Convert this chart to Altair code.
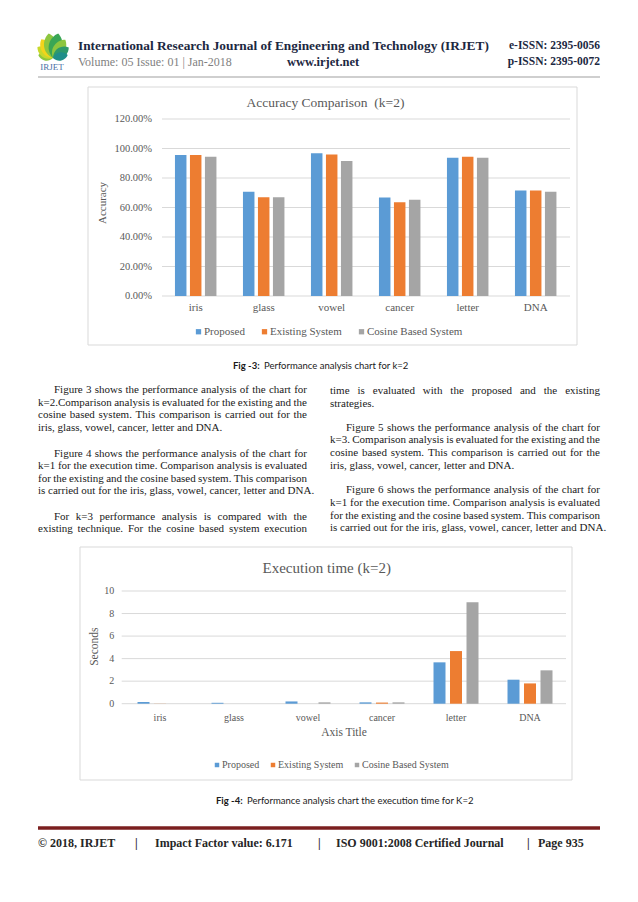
import altair as alt
import pandas as pd

# ---------------- data ----------------
categories = ["iris", "glass", "vowel", "cancer", "letter", "DNA"]
series = ["Proposed", "Existing System", "Cosine Based System"]
colors = ["#5b9bd5", "#ed7d31", "#a5a5a5"]

acc_proposed = [0.956, 0.707, 0.967, 0.667, 0.938, 0.716]
acc_existing = [0.956, 0.669, 0.960, 0.635, 0.944, 0.716]
acc_cosine = [0.944, 0.669, 0.915, 0.653, 0.938, 0.707]
acc_ticks = [0.0, 0.2, 0.4, 0.6, 0.8, 1.0, 1.2]
acc_tick_labels = ["0.00%", "20.00%", "40.00%", "60.00%", "80.00%", "100.00%", "120.00%"]

time_proposed = [0.15, 0.08, 0.20, 0.12, 3.67, 2.13]
time_existing = [0.01, 0.0, 0.0, 0.10, 4.67, 1.80]
time_cosine = [0.0, 0.0, 0.12, 0.12, 9.00, 2.96]
time_ticks = [0, 2, 4, 6, 8, 10]
time_tick_labels = ["0", "2", "4", "6", "8", "10"]

header_title = "International Research Journal of Engineering and Technology (IRJET)"
header_eissn = "e-ISSN: 2395-0056"
header_volume = "Volume: 05 Issue: 01 | Jan-2018"
header_web = "www.irjet.net"
header_pissn = "p-ISSN: 2395-0072"

chart1_title = "Accuracy Comparison\u00a0 (k=2)"
chart1_ytitle = "Accuracy"
chart2_title = "Execution time (k=2)"
chart2_ytitle = "Seconds"
chart2_xtitle = "Axis Title"

fig3_bold, fig3_text = "Fig -3:", "Performance analysis chart for k=2"
fig4_bold, fig4_text = "Fig -4:", "Performance analysis chart the execution time for K=2"

left_p1 = ["Figure 3 shows the performance analysis of the chart for",
           "k=2.Comparison analysis is evaluated for the existing and the",
           "cosine based system. This comparison is carried out for the",
           "iris, glass, vowel, cancer, letter and DNA."]
left_p2 = ["Figure 4 shows the performance analysis of the chart for",
           "k=1 for the execution time. Comparison analysis is evaluated",
           "for the existing and the cosine based system. This comparison",
           "is carried out for the iris, glass, vowel, cancer, letter and DNA."]
left_p3 = ["For k=3 performance analysis is compared with the",
           "existing technique. For the cosine based system execution"]
right_p0 = ["time is evaluated with the proposed and the existing",
            "strategies."]
right_p1 = ["Figure 5 shows the performance analysis of the chart for",
            "k=3. Comparison analysis is evaluated for the existing and the",
            "cosine based system. This comparison is carried out for the",
            "iris, glass, vowel, cancer, letter and DNA."]
right_p2 = ["Figure 6 shows the performance analysis of the chart for",
            "k=1 for the execution time. Comparison analysis is evaluated",
            "for the existing and the cosine based system. This comparison",
            "is carried out for the iris, glass, vowel, cancer, letter and DNA."]

footer_parts = ["\u00a9 2018, IRJET", "|", "Impact Factor value: 6.171", "|",
                "ISO 9001:2008 Certified Journal", "|", "Page 935"]

logo_text = "IRJET"
logo_leaf_angle = [-78, -55, -32, -10, 12, 34, 56, 78]
logo_leaf_len = [15, 19, 22, 25, 25, 22, 19, 15]
logo_leaf_color = ["#8dc63f", "#c8d92b", "#f2d41c", "#8dc63f", "#3aa655",
                   "#8dc63f", "#2e9a6b", "#1f8f8a"]

# ---------------- styles ----------------
SERIF = "Liberation Serif"
SANS = "Lato"
GREY = "#595959"
NAVY = "#1c2841"
INK = "#1a1a1a"
GRID = "#d9d9d9"
BODY_SIZE = 11

ONE = alt.Data(values=[{}])

# Times / Liberation Serif advance widths (1/1000 em) for justification layout
_TW = {" ": 250, ",": 250, ".": 250, "-": 333, "=": 564, ":": 278, "(": 333, ")": 333,
       "A": 722, "C": 667, "D": 722, "F": 556, "N": 722, "T": 611, "I": 333,
       "a": 444, "b": 500, "c": 444, "d": 500, "e": 444, "f": 333, "g": 500, "h": 500,
       "i": 278, "j": 278, "k": 500, "l": 278, "m": 778, "n": 500, "o": 500, "p": 500,
       "q": 500, "r": 333, "s": 389, "t": 278, "u": 500, "v": 500, "w": 722, "x": 500,
       "y": 500, "z": 444}


def tw(s, size):
    return sum(_TW.get(ch, 500) for ch in s) * size / 1000.0


def txt(s, x, y, **kw):
    base = dict(baseline="middle", font=SERIF, fontSize=11, color=INK, align="left")
    base.update(kw)
    return alt.Chart(alt.Data(values=[{"t": s}])).mark_text(x=x, y=y, **base).encode(text="t:N")


def layout_para(rows, lines, x0, x1, y0, indent, lh, last_justified=False):
    n = len(lines)
    for i, line in enumerate(lines):
        y = y0 + i * lh
        start = x0 + (indent if i == 0 else 0)
        words = line.split(" ")
        justify = (i < n - 1) or last_justified
        widths = [tw(w, BODY_SIZE) for w in words]
        if justify and len(words) > 1:
            gap = (x1 - start - sum(widths)) / (len(words) - 1)
            gap = max(gap, 0.55 * tw(" ", BODY_SIZE))
        else:
            gap = tw(" ", BODY_SIZE)
        x = start
        for w, wd in zip(words, widths):
            rows.append({"w": w, "px": x, "py": y})
            x += wd + gap


def long_df(vals):
    rows = []
    for s, vs in zip(series, vals):
        for c, v in zip(categories, vs):
            rows.append({"category": c, "series": s, "value": v})
    return pd.DataFrame(rows)


def bar_block(vals, ticks, tick_labels, domain, xrange, yrange, pin, pout, opin,
              gx0, gx1, ylab_x, ylab_size, xlab_y, xlab_size, legend):
    xs = alt.Scale(domain=categories, range=xrange, paddingInner=pin, paddingOuter=pout)
    ys = alt.Scale(domain=domain, range=yrange, nice=False, zero=True)
    tick_df = pd.DataFrame({"tick": ticks, "label": tick_labels})
    grid = alt.Chart(tick_df).mark_rule(color=GRID, strokeWidth=1).encode(
        y=alt.Y("tick:Q", scale=ys, axis=None), x=alt.value(gx0), x2=alt.value(gx1))
    ylab = alt.Chart(tick_df).mark_text(align="right", baseline="middle", font=SERIF,
                                        fontSize=ylab_size, color=GREY).encode(
        y=alt.Y("tick:Q", scale=ys, axis=None), x=alt.value(ylab_x), text="label:N")
    bars = alt.Chart(long_df(vals)).mark_bar().encode(
        x=alt.X("category:N", scale=xs, axis=None),
        xOffset=alt.XOffset("series:N", scale=alt.Scale(domain=series, paddingInner=opin, paddingOuter=0)),
        y=alt.Y("value:Q", scale=ys, axis=None),
        color=alt.Color("series:N", scale=alt.Scale(domain=series, range=colors), legend=legend),
    )
    xlab = alt.Chart(pd.DataFrame({"category": categories})).mark_text(
        baseline="middle", font=SERIF, fontSize=xlab_size, color=GREY).encode(
        x=alt.X("category:N", scale=xs, axis=None), y=alt.value(xlab_y), text="category:N")
    return alt.layer(grid, bars, ylab, xlab)


legend1 = alt.Legend(orient="none", legendX=185, legendY=318, direction="horizontal", title=None,
                     symbolType="square", symbolSize=28, symbolStrokeWidth=0, labelFont=SERIF,
                     labelFontSize=11, labelColor=GREY, columnPadding=14, labelOffset=0, padding=0)
legend2 = alt.Legend(orient="none", legendX=204, legendY=752, direction="horizontal", title=None,
                     symbolType="square", symbolSize=20, symbolStrokeWidth=0, labelFont=SERIF,
                     labelFontSize=10, labelColor=GREY, columnPadding=8, labelOffset=0, padding=0)

chart1 = bar_block([acc_proposed, acc_existing, acc_cosine], acc_ticks, acc_tick_labels,
                   [0, 1.2], [153.7, 561.7], [288, 111], 0.39, 0.195, 0.233,
                   154, 562, 144, 10.5, 300, 11, legend1)
chart2 = bar_block([time_proposed, time_existing, time_cosine], time_ticks, time_tick_labels,
                   [0, 10], [115, 559], [695.7, 583], 0.392, 0.196, 0.273,
                   113.7, 558, 106.3, 10, 709.7, 10, legend2)

# frames
frame1 = alt.Chart(ONE).mark_rect(fill="white", stroke=GRID, strokeWidth=1).encode(
    x=alt.value(80), x2=alt.value(569), y=alt.value(79), y2=alt.value(337))
frame2 = alt.Chart(ONE).mark_rect(fill="white", stroke=GRID, strokeWidth=1).encode(
    x=alt.value(72), x2=alt.value(564), y=alt.value(539), y2=alt.value(772))

# header logo
logo_df = pd.DataFrame({"a": logo_leaf_angle, "len": logo_leaf_len, "c": logo_leaf_color})
logo_df["size"] = (logo_df["len"] * 2) ** 2
leaf_path = "M0,0 C0.42,-0.3 0.3,-0.8 0,-1 C-0.3,-0.8 -0.42,-0.3 0,0 Z"
leaves = alt.Chart(logo_df).mark_point(filled=True, shape=leaf_path, opacity=1, strokeWidth=0).encode(
    x=alt.value(45), y=alt.value(50),
    angle=alt.Angle("a:Q", scale=None),
    size=alt.Size("size:Q", scale=None, legend=None),
    color=alt.Color("c:N", scale=None, legend=None))

header_rule = alt.Chart(ONE).mark_rule(color="#bfbfbf", strokeWidth=1.5).encode(
    x=alt.value(30), x2=alt.value(592), y=alt.value(69))
footer_rule = alt.Chart(ONE).mark_rule(color="#7b1f1f", strokeWidth=3.5).encode(
    x=alt.value(30), x2=alt.value(592), y=alt.value(820))

texts = [
    txt(logo_text, 44, 59, align="center", fontSize=9, color="#4a6fa5"),
    txt(header_title, 70, 38, fontWeight="bold", fontSize=13.35, color=NAVY),
    txt(header_eissn, 592, 38, align="right", fontWeight="bold", fontSize=11.5, color=NAVY),
    txt(header_volume, 70, 54, fontSize=12, color="#7f7f7f"),
    txt(header_web, 279, 54, fontWeight="bold", fontSize=12.5, color=NAVY),
    txt(header_pissn, 592, 54, align="right", fontWeight="bold", fontSize=11.5, color=NAVY),
    txt(chart1_title, 317.5, 95, align="center", fontSize=13.5, color=GREY),
    txt(chart1_ytitle, 95, 195, align="center", angle=270, fontSize=11, color=GREY),
    txt(chart2_title, 318.7, 560, align="center", fontSize=15, color=GREY),
    txt(chart2_ytitle, 87, 638.7, align="center", angle=270, fontSize=11.5, color=GREY),
    txt(chart2_xtitle, 336, 725.3, align="center", fontSize=11.5, color=GREY),
    txt(fig3_bold, 225, 358, font=SANS, fontWeight="bold", fontSize=9.5),
    txt(fig3_text, 256, 358, font=SANS, fontSize=9.5),
    txt(fig4_bold, 208, 793, font=SANS, fontWeight="bold", fontSize=9.5),
    txt(fig4_text, 239, 793, font=SANS, fontSize=9.5),
]

# body text, justified like the page
rows = []
layout_para(rows, left_p1, 30, 299, 385, 16, 12.6)
layout_para(rows, left_p2, 30, 299, 449, 16, 12.4)
layout_para(rows, left_p3, 30, 299, 511.5, 16, 12.4, last_justified=True)
layout_para(rows, right_p0, 322, 592, 385.5, 0, 13.0)
layout_para(rows, right_p1, 322, 592, 422.7, 16, 12.7)
layout_para(rows, right_p2, 322, 592, 485, 16, 12.8)
body = alt.Chart(pd.DataFrame(rows)).mark_text(
    align="left", baseline="alphabetic", font=SERIF, fontSize=BODY_SIZE, color=INK).encode(
    x=alt.X("px:Q", scale=None), y=alt.Y("py:Q", scale=None), text="w:N")

footer_x = [30, 127, 147, 310, 328, 519, 530]
for s, fx in zip(footer_parts, footer_x):
    texts.append(txt(s, fx, 835, fontWeight="bold", fontSize=12, color="#262626"))

chart = alt.layer(
    frame1, frame2, header_rule, footer_rule, leaves, body, *texts, chart1, chart2
).resolve_scale(
    x="independent", y="independent", color="independent", xOffset="independent",
    size="independent", angle="independent"
).properties(
    width=622, height=886, padding=0,
    autosize=alt.AutoSizeParams(type="none"), background="white"
).configure_view(stroke=None)

chart.save("out.html", embed_options={"renderer": "svg", "actions": False})
